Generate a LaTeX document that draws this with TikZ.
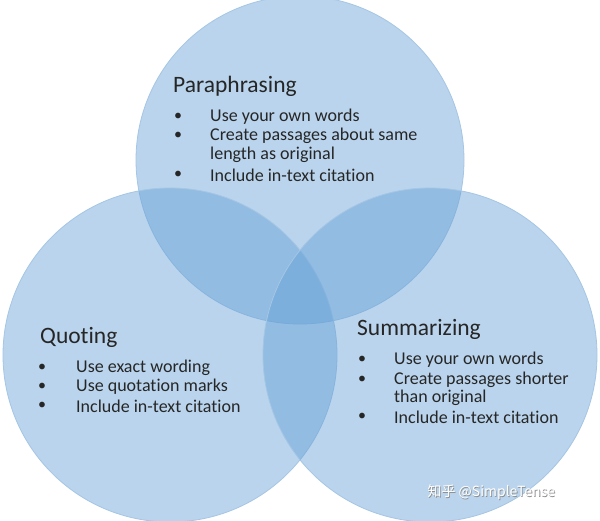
\documentclass[tikz,border=0pt]{standalone}
\usepackage{fontspec}
\setmainfont{Carlito}[Ligatures=NoCommon]
\newfontfamily\cjk{Noto Sans CJK SC}
\definecolor{vblue}{RGB}{100,160,215}
\definecolor{vedge}{RGB}{165,198,228}
\begin{document}
\begin{tikzpicture}[x=1pt,y=-1pt,
  circ/.style={fill=vblue,fill opacity=0.45,draw=vedge,line width=0.8pt},
  ttl/.style={anchor=west,font=\fontsize{23.5}{26}\selectfont,text=black!85,inner sep=0pt},
  itm/.style={anchor=west,font=\fontsize{18}{20}\selectfont,text=black!85,inner sep=0pt},
  bul/.style={anchor=center,font=\fontsize{16}{18}\selectfont,text=black!85}]
\useasboundingbox (0,0) rectangle (600,520);
\fill[white] (0,0) rectangle (600,520);
\path[circ] (300,160) circle[radius=164] coordinate (ctop);
\path[circ] (170,355) circle[radius=167] coordinate (cleft);
\path[circ] (430,355) circle[radius=167] coordinate (cright);
% Paraphrasing
\node[ttl] (pt) at (173,86) {Paraphrasing};
\foreach \y/\t/\b in {117/Use your own words/1,136/Create passages about same/1,155/length as original/0,175/Include in-text citation/1}{
  \node[itm] (p\y) at (210,\y) {\t};
  \ifnum\b=1 \node[bul] (pb\y) at (178,\y) {•};\fi
}
% Quoting
\node[ttl] (qt) at (40,337) {Quoting};
\foreach \y/\t in {368/Use exact wording,387/Use quotation marks,406/Include in-text citation}{
  \node[itm] (q\y) at (76,\y) {\t};
  \node[bul] (qb\y) at (42,\y) {•};
}
% Summarizing
\node[ttl] (st) at (357,329) {Summarizing};
\foreach \y/\t/\b in {360/Use your own words/1,380/Create passages shorter/1,398/than original/0,417/Include in-text citation/1}{
  \node[itm] (s\y) at (394,\y) {\t};
  \ifnum\b=1 \node[bul] (sb\y) at (362,\y) {•};\fi
}
\node[anchor=west,font=\cjk\fontsize{14}{16}\selectfont,text=white] (wm0) at (424.8,492.8) {\textcolor{black!45}{知乎 @SimpleTense}};
\node[anchor=west,font=\cjk\fontsize{14}{16}\selectfont,text=white] (wm) at (424,492) {知乎 @SimpleTense};
\end{tikzpicture}
\end{document}
